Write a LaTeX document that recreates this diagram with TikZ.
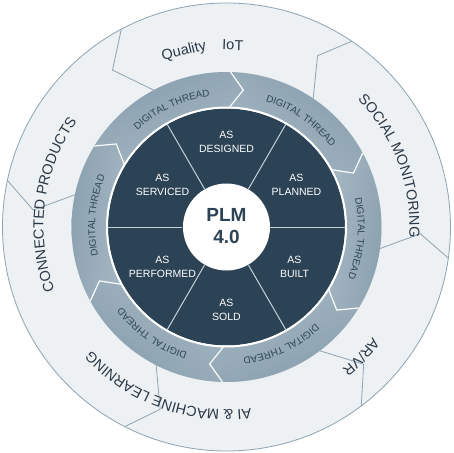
\documentclass[tikz,border=0pt]{standalone}
\usepackage{fontspec}
\setmainfont{Liberation Sans}
\usetikzlibrary{decorations.text}
\definecolor{darkc}{HTML}{2C4356}
\definecolor{ringdark}{HTML}{8AA0AF}
\definecolor{ringlight}{HTML}{BCCAD3}
\definecolor{outerfill}{HTML}{EDF1F4}
\definecolor{outerline}{HTML}{8EA3B2}
\definecolor{labelc}{HTML}{2A3845}
\definecolor{threadc}{HTML}{2F4658}
\definecolor{spokec}{HTML}{C5D1D9}
\definecolor{rinner}{HTML}{869CAC}
\definecolor{router}{HTML}{E4EBF0}
\pgfdeclareradialshading{ringrad}{\pgfpoint{0bp}{0bp}}{color(0bp)=(rinner); color(38.7bp)=(rinner); color(50bp)=(router); color(60bp)=(router)}
\newcommand{\outerfnt}{\fontsize{14.5}{14.5}\selectfont\color{labelc}}
\newcommand{\threadfnt}{\fontsize{9.8}{9.8}\selectfont\color{threadc}}
\tikzset{
  ochev/.style={draw=outerline, line width=0.8pt, line join=miter},
  rchev/.style={draw=white!92!ringlight, line width=1.2pt},
  spoke/.style={draw=spokec, line width=1pt},
  phase/.style={text=white, font=\fontsize{10.5}{14}\selectfont, align=center, inner sep=0pt},
  outerlbl/.style={text=labelc, font=\fontsize{14.5}{14.5}\selectfont, inner sep=0pt},
}
\begin{document}
\begin{tikzpicture}[x=1pt,y=1pt]
\useasboundingbox (-226.5,-226) rectangle (226.5,227);
\fill[white] (-226.5,-226) rectangle (226.5,227);
% outer ring
\fill[outerfill] (0,0) circle (224);
\draw[outerline, line width=0.8pt] (0,0) circle (224);
\foreach \ba/\ta in {118/126, 56/62, -8/-2, -53/-45, -117/-110, 168/175}
  \draw[ochev] (\ba:155) -- (\ta:194) -- (\ba:224);
% digital thread ring segments
\foreach \a in {143,83,23,-37,-97,-157} {
  \pgfmathsetmacro{\b}{\a-60}
  \pgfmathsetmacro{\sa}{\a-30-90}
  \pgfmathsetmacro{\ai}{\a+5.5}
  \pgfmathsetmacro{\bi}{\b+5.5}
  \shade[left color=ringdark, right color=ringlight, shading angle=\sa]
    (\ai:120) -- (\a:138) -- (\ai:155)
    arc[start angle=\ai, end angle=\bi, radius=155]
    -- (\b:138) -- (\bi:120)
    arc[start angle=\bi, end angle=\ai, radius=120] -- cycle;
}
\shade[shading=ringrad, opacity=0.4, even odd rule] (0,0) circle (155) (0,0) circle (120);
\foreach \a in {143,83,23,-37,-97,-157}
  \draw[rchev] (\a+5.5:120) -- (\a:138) -- (\a+5.5:155);
\foreach \c in {115,55,-5,-65,-125,175}
  \path[decorate, decoration={text along path, text align=center,
      text={|\threadfnt|DIGITAL THREAD}}]
    (\c+40:131.5) arc[start angle=\c+40, end angle=\c-40, radius=131.5];
% dark inner disc
\fill[darkc] (0,0) circle (118.5);
\draw[white, line width=2pt] (0,0) circle (119.5);
\foreach \t in {0,60,...,300}
  \draw[spoke] (\t:44) -- (\t:118.5);
\fill[white] (0,0) circle (43.5);
% phase labels
\node[phase] (designed) at (0,85) {AS\\DESIGNED};
\node[phase] (planned) at (70,42) {AS\\PLANNED};
\node[phase] (built) at (68,-40) {AS\\BUILT};
\node[phase] (sold) at (0,-83) {AS\\SOLD};
\node[phase] (performed) at (-64,-40) {AS\\PERFORMED};
\node[phase] (serviced) at (-64,42) {AS\\SERVICED};
\node[text=darkc, font=\fontsize{19}{22}\selectfont\bfseries, align=center, inner sep=0pt] (plm) at (0,1) {PLM\\4.0};
% outer labels
\node[outerlbl, anchor=base, rotate=13.6] (quality) at (103.6:177) {Quality};
\node[outerlbl, anchor=base, rotate=-2] (iot) at (88:177) {IoT};
\path[decorate, decoration={text along path, text align=center,
    text={|\outerfnt|SOCIAL MONITORING}}]
  (20.5+60:183) arc[start angle=20.5+60, end angle=20.5-60, radius=183];
\path[decorate, decoration={text along path, text align=center,
    text={|\outerfnt|CONNECTED PRODUCTS}}]
  (172.5+60:183) arc[start angle=172.5+60, end angle=172.5-60, radius=183];
\path[decorate, decoration={text along path, text align=center,
    text={|\outerfnt|AI {\&} MACHINE LEARNING}}]
  (-110+60:183) arc[start angle=-110+60, end angle=-110-60, radius=183];
\path[decorate, decoration={text along path, text align=center,
    text={|\outerfnt|AR/VR}}]
  (-44+40:183) arc[start angle=-44+40, end angle=-44-40, radius=183];
\end{tikzpicture}
\end{document}
